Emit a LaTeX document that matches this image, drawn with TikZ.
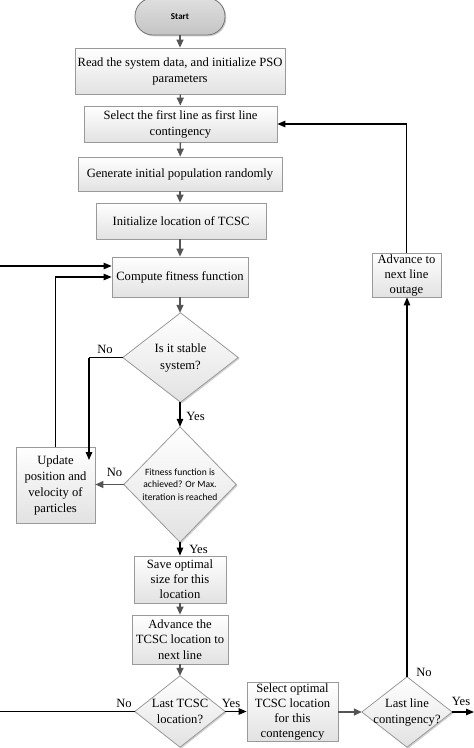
\documentclass[tikz,border=0pt]{standalone}
\usepackage{fontspec}
\setmainfont{Liberation Serif}
\newfontfamily\calfont{Carlito}
\usetikzlibrary{arrows.meta,shadows,backgrounds,calc}
\definecolor{boxborder}{HTML}{9A9A9A}
\definecolor{boxfill}{HTML}{E2E2E2}
\definecolor{arrgray}{HTML}{555555}
\definecolor{startfill}{HTML}{C4C4C4}
\newcommand{\mainsz}{\fontsize{12.6}{16}\selectfont}
\tikzset{
  box/.style={draw=boxborder, line width=0.8pt, top color=white, bottom color=boxfill,
    drop shadow={shadow xshift=1.3pt, shadow yshift=-1.3pt, fill=black, opacity=0.22},
    inner sep=1pt, align=center, font=\mainsz},
  diatext/.style={inner sep=0pt, align=center, font=\mainsz},
  diashape/.style={draw=boxborder, line width=0.8pt, top color=white, bottom color=boxfill},
  diashadow/.style={fill=black, opacity=0.18},
  arr/.style={-{Triangle[length=8pt,width=7pt]}, line width=1.4pt, draw=arrgray},
  darr/.style={-{Triangle[length=8pt,width=6.5pt]}, line width=1.1pt, draw=black},
  loopline/.style={line width=1.1pt, draw=black},
  lbl/.style={inner sep=0pt, font=\mainsz},
}
\begin{document}
\begin{tikzpicture}[x=1pt,y=-1pt]
\useasboundingbox (0,0) rectangle (474,748);
% start terminator
\node[draw=gray!90!black, line width=0.8pt, top color=gray!25, bottom color=startfill,
  rounded corners=18pt, minimum width=90pt, minimum height=37pt, font=\calfont\bfseries\fontsize{9}{11}\selectfont,
  drop shadow={shadow xshift=1.3pt, shadow yshift=-1.3pt, fill=black, opacity=0.2}]
  (start) at (180,16.5) {Start};
% process boxes
\node[box, minimum width=210pt, minimum height=46pt] (b1) at (180,71)
  {Read the system data, and initialize PSO\\parameters};
\node[box, minimum width=193pt, minimum height=36pt] (b2) at (180.5,124)
  {Select the first line as first line\\contingency};
\node[box, minimum width=204pt, minimum height=34pt] (b3) at (180,174)
  {Generate initial population randomly};
\node[box, minimum width=170pt, minimum height=36pt] (b4) at (181,221)
  {Initialize location of TCSC};
\node[box, minimum width=136pt, minimum height=40pt] (comp) at (180,277)
  {Compute fitness function};
\node[box, minimum width=79pt, minimum height=76pt] (upd) at (55.5,485)
  {Update\\position and\\velocity of\\particles};
\node[box, minimum width=92pt, minimum height=47pt, font=\fontsize{12.6}{15}\selectfont] (save) at (180,579.5)
  {Save optimal\\size for this\\location};
\node[box, minimum width=96pt, minimum height=49pt, font=\fontsize{12.6}{15.5}\selectfont] (adv) at (180,639.5)
  {Advance the\\TCSC location to\\next line};
\node[box, minimum width=91pt, minimum height=59pt, font=\fontsize{12.6}{15}\selectfont] (sel) at (292.5,711.5)
  {Select optimal\\TCSC location\\for this\\contengency};
\node[box, minimum width=69pt, minimum height=44pt, font=\fontsize{12.6}{15}\selectfont] (out) at (406.5,275)
  {Advance to\\next line\\outage};
% decision nodes (text holders, diamond drawn behind)
\node[diatext, minimum width=115pt, minimum height=89pt, font=\fontsize{12.6}{17}\selectfont] (d1) at (180.5,357.5)
  {Is it stable\\system?};
\node[diatext, minimum width=112pt, minimum height=115pt, font=\calfont\fontsize{9.6}{12.7}\selectfont] (d2) at (180,484.5)
  {Fitness function is\\achieved? Or Max.\\iteration is reached};
\node[diatext, minimum width=90pt, minimum height=71pt] (d3) at (180,711.5)
  {Last TCSC\\location?};
\node[diatext, minimum width=90pt, minimum height=70pt] (d4) at (407,712)
  {Last line\\contingency?};
\begin{scope}[on background layer]
  \foreach \d in {d1,d2,d3,d4}{
    \fill[diashadow] ([shift={(1.3pt,-1.3pt)}]\d.north) -- ([shift={(1.3pt,-1.3pt)}]\d.east)
      -- ([shift={(1.3pt,-1.3pt)}]\d.south) -- ([shift={(1.3pt,-1.3pt)}]\d.west) -- cycle;
    \shadedraw[diashape] (\d.north) -- (\d.east) -- (\d.south) -- (\d.west) -- cycle;
  }
\end{scope}
% main flow arrows
\draw[arr] (start) -- (b1);
\draw[arr] (b1) -- (b2);
\draw[arr] (b2) -- (b3);
\draw[arr] (b3) -- (b4.north -| b3.south);
\draw[arr] (b4.south -| comp.north) -- (comp);
\draw[arr] (comp) -- (d1.north -| comp.south);
\draw[darr] (d1.south -| d2.north) -- (d2.north);
\draw[darr] (d2.south) -- (save.north);
\draw[arr] (save) -- (adv);
\draw[arr] (adv) -- (d3.north);
\draw[darr] (d3.east) -- (sel.west |- d3.east);
\draw[arr] (sel.east |- d4.west) -- (d4.west);
% Is it stable -> No
\coordinate (nocol) at (89,0);
\coordinate (updin) at (89,460);
\draw[loopline] (d1.west) -- (d1.west -| nocol);
\draw[darr] (d1.west -| nocol) -- (updin);
% fitness -> No
\draw[arr, line width=1.1pt] (d2.west) -- (upd.east |- d2.west);
% update loop back to compute
\draw[darr] (upd.north) |- (comp.west);
% last TCSC -> No loop
\coordinate (lx) at (-3,0);
\coordinate (cin) at ([yshift=11pt]comp.west);
\draw[darr] (d3.west) -- (d3.west -| lx) -- (cin -| lx) -- (cin);
% last line contingency
\coordinate (rx) at (474,0);
\draw[darr] (d4.east) -- (d4.east -| rx);
\draw[darr] (d4.north) -- (d4.north |- out.south);
\draw[darr] (out.north) |- (b2.east);
% labels
\node[lbl] (lno1) at (105,349) {No};
\node[lbl] (lyes1) at (195.5,416) {Yes};
\node[lbl] (lno2) at (114.5,472) {No};
\node[lbl] (lyes2) at (198.5,549) {Yes};
\node[lbl] (lno3) at (124,703) {No};
\node[lbl] (lyes3) at (231,703) {Yes};
\node[lbl] (lno4) at (424,672) {No};
\node[lbl] (lyes4) at (461,701) {Yes};
\end{tikzpicture}
\end{document}
